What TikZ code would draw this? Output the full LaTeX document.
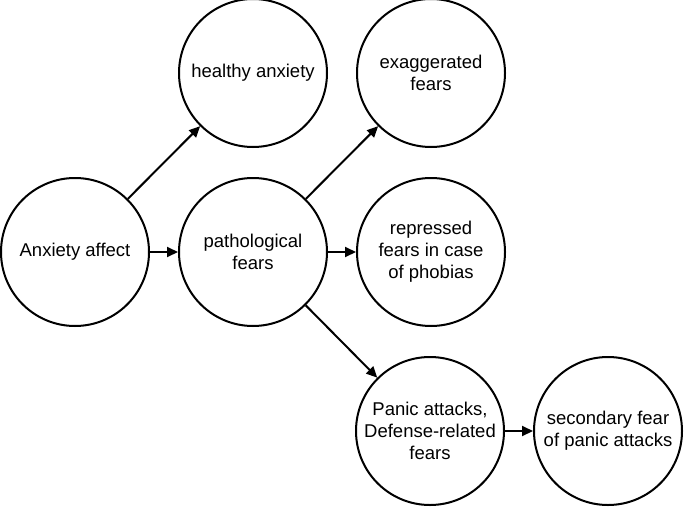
\documentclass[tikz,border=0pt]{standalone}
\usepackage{fontspec}
\setmainfont{Liberation Sans}
\usetikzlibrary{arrows.meta}
\begin{document}
\begin{tikzpicture}[x=1pt,y=-1pt,
  circ/.style={circle,draw,line width=2pt,minimum size=148pt,inner sep=0pt,align=center,
    font=\fontsize{18.5}{22}\selectfont},
  arr/.style={line width=2pt,-{Triangle[length=11pt,width=10pt]}}]
\useasboundingbox (0,0) rectangle (685,506);
\node[circ] (A) at (75,252) {Anxiety affect};
\node[circ] (H) at (253,73) {healthy anxiety};
\node[circ] (P) at (253,252) {pathological\\fears};
\node[circ] (E) at (431,73) {exaggerated\\fears};
\node[circ] (R) at (431,252) {repressed\\fears in case\\of phobias};
\node[circ] (K) at (430,431) {Panic attacks,\\Defense-related\\fears};
\node[circ] (S) at (608,431) {secondary fear\\of panic attacks};
\draw[arr] (A) -- (H);
\draw[arr] (A) -- (P);
\draw[arr] (P) -- (E);
\draw[arr] (P) -- (R);
\draw[arr] (P) -- (K);
\draw[arr] (K) -- (S);
\end{tikzpicture}
\end{document}
